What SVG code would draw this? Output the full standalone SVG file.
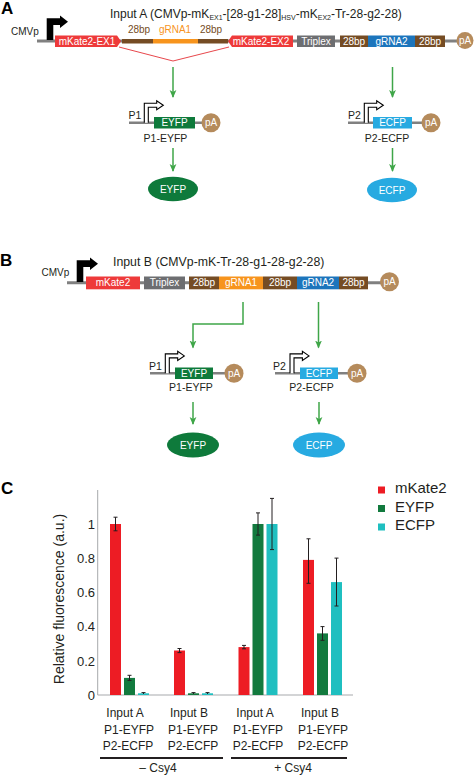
<svg xmlns="http://www.w3.org/2000/svg" width="474" height="775" viewBox="0 0 474 775">
<style>
text{font-family:"Liberation Sans",Arial,sans-serif;fill:#231f20}
.lbl{font-weight:bold;font-size:17px;fill:#000}
.ttl{font-size:12px}
.sub{font-size:7px}
.sm{font-size:10px}
.wt{font-size:10px;fill:#fff;text-anchor:middle}
.pl{font-size:10.5px}
.ctr{text-anchor:middle}
.bb{stroke:#808080;stroke-width:3;fill:none}
.pb{stroke:#808080;stroke-width:2.5;fill:none}
.ga{stroke:#3fa648;stroke-width:1.5;fill:none;marker-end:url(#gah)}
.red{fill:#ee3a3a}.gry{fill:#6d6e71}.brn{fill:#754c24}.org{fill:#f7941d}.blu{fill:#1c75bc}
.pa{fill:#b58b5c}
.eyfp{fill:#0e7a3b}.ecfp{fill:#27aae1}
.bR{fill:#ed1c24}.bG{fill:#127a3e}.bT{fill:#1fbfc0}
.err{stroke:#231f20;stroke-width:1;fill:none}
.ax{stroke:#a7a9ac;stroke-width:1;fill:none}
.tk{font-size:13px;text-anchor:end}
.xl{font-size:12px;text-anchor:middle}
.lg{font-size:15px}
</style>
<defs>
<marker id="gah" markerWidth="8" markerHeight="8" refX="7" refY="4" orient="auto" markerUnits="userSpaceOnUse">
<path d="M0,0.6 L8,4 L0,7.4 L2,4 Z" fill="#3fa648"/>
</marker>
<path id="prom" d="M0,0 V-19.4 H12.4 V-21.9 L19,-17.4 L12.4,-12.9 V-15.4 H4 V0" fill="#fff" stroke="#000" stroke-width="1.1"/>
<path id="bigprom" d="M0,0 V-21.7 H13.3 V-24.5 L21.3,-18.3 L13.3,-12 V-15 H6.6 V0 Z" fill="#000"/>
</defs>

<!-- Panel A -->
<g id="panelA-label"><text class="lbl" x="1" y="14">A</text></g>
<g id="titleA"><text class="ttl" x="110" y="17.5">Input A (CMVp-mK<tspan class="sub" dy="2.5">EX1</tspan><tspan dy="-2.5">-[28-g1-28]</tspan><tspan class="sub" dy="2.5">HSV</tspan><tspan dy="-2.5">-mK</tspan><tspan class="sub" dy="2.5">EX2</tspan><tspan dy="-2.5">-Tr-28-g2-28)</tspan></text></g>
<g id="constructA">
<line class="bb" x1="37" y1="41" x2="458" y2="41"/>
<text class="sm" x="11" y="35">CMVp</text>
<use href="#bigprom" x="46.7" y="40"/>
<polygon class="red" points="55,35.5 117,35.5 121,41.2 117,47 55,47"/>
<text class="wt" x="87" y="44.6">mKate2-EX1</text>
<rect class="brn" x="122" y="39" width="31" height="4.5"/>
<rect class="org" x="153" y="39" width="45" height="4.5"/>
<rect class="brn" x="198" y="39" width="30" height="4.5"/>
<text class="sm ctr" x="139" y="33.3" style="fill:#754c24">28bp</text>
<text class="sm ctr" x="175" y="33.3" style="fill:#f7941d">gRNA1</text>
<text class="sm ctr" x="211" y="33.3" style="fill:#754c24">28bp</text>
<polygon class="red" points="232,35.5 293,35.5 293,47 232,47 228,41.2"/>
<text class="wt" x="261" y="44.6">mKate2-EX2</text>
<rect class="gry" x="297" y="35.5" width="38" height="11.5"/>
<text class="wt" x="316" y="44.6">Triplex</text>
<rect class="brn" x="340" y="35.5" width="28" height="11.5"/>
<text class="wt" x="354" y="44.6">28bp</text>
<rect class="blu" x="368" y="35.5" width="47" height="11.5"/>
<text class="wt" x="391.5" y="44.6">gRNA2</text>
<rect class="brn" x="415" y="35.5" width="30" height="11.5"/>
<text class="wt" x="430" y="44.6">28bp</text>
<circle class="pa" cx="465" cy="40.5" r="8.5"/>
<text class="wt" x="465" y="44">pA</text>
<polyline points="119,47 173,61 229,47" fill="none" stroke="#e8474c" stroke-width="1"/>
</g>
<g id="A-P1-EYFP">
<line class="pb" x1="129" y1="122.7" x2="203" y2="122.7"/>
<text class="pl" x="128.5" y="119">P1</text>
<use href="#prom" x="144.3" y="122.7"/>
<rect class="eyfp" x="154" y="117" width="41" height="11.5"/>
<text class="wt" x="174.5" y="126.4">EYFP</text>
<circle class="pa" cx="211" cy="122.7" r="9.5"/>
<text class="wt" x="211" y="126.4">pA</text>
<text class="pl ctr" x="165.5" y="141.7">P1-EYFP</text>
</g>
<g id="A-P2-ECFP">
<line class="pb" x1="348" y1="122.7" x2="423" y2="122.7"/>
<text class="pl" x="348" y="119">P2</text>
<use href="#prom" x="364.3" y="122.7"/>
<rect class="ecfp" x="373" y="117" width="39" height="11.5"/>
<text class="wt" x="392.5" y="126.4">ECFP</text>
<circle class="pa" cx="431" cy="122.7" r="9.5"/>
<text class="wt" x="431" y="126.4">pA</text>
<text class="pl ctr" x="387" y="141.7">P2-ECFP</text>
</g>
<g id="A-EYFP-protein"><ellipse class="eyfp" cx="173" cy="189" rx="25" ry="12.3"/><text class="wt" x="173" y="192.6">EYFP</text></g>
<g id="A-ECFP-protein"><ellipse class="ecfp" cx="392" cy="190" rx="25" ry="12.3"/><text class="wt" x="392" y="193.6">ECFP</text></g>

<!-- Panel B -->
<g id="panelB-label"><text class="lbl" x="0" y="266">B</text></g>
<g id="titleB"><text class="ttl" x="113" y="265.5" style="font-size:12.3px">Input B (CMVp-mK-Tr-28-g1-28-g2-28)</text></g>
<g id="constructB">
<line class="bb" x1="67" y1="282.7" x2="382" y2="282.7"/>
<text class="sm" x="41.5" y="276">CMVp</text>
<use href="#bigprom" x="76.7" y="282"/>
<rect class="red" x="86" y="276.5" width="54" height="12.8"/>
<text class="wt" x="113" y="286.4">mKate2</text>
<rect class="gry" x="144" y="276.5" width="41" height="12.8"/>
<text class="wt" x="164.5" y="286.4">Triplex</text>
<rect class="brn" x="189" y="276.5" width="30" height="12.8"/>
<text class="wt" x="204" y="286.4">28bp</text>
<rect class="org" x="219" y="276.5" width="44" height="12.8"/>
<text class="wt" x="241" y="286.4">gRNA1</text>
<rect class="brn" x="263" y="276.5" width="34" height="12.8"/>
<text class="wt" x="280" y="286.4">28bp</text>
<rect class="blu" x="297" y="276.5" width="42" height="12.8"/>
<text class="wt" x="318" y="286.4">gRNA2</text>
<rect class="brn" x="339" y="276.5" width="29" height="12.8"/>
<text class="wt" x="353.5" y="286.4">28bp</text>
<circle class="pa" cx="389.5" cy="281.7" r="9.5"/>
<text class="wt" x="389.5" y="285.4">pA</text>
</g>
<g id="B-P1-EYFP">
<line class="pb" x1="150" y1="373.3" x2="226" y2="373.3"/>
<text class="pl" x="149" y="369.5">P1</text>
<use href="#prom" x="165.3" y="373.3"/>
<rect class="eyfp" x="175" y="367.5" width="38" height="11.5"/>
<text class="wt" x="194" y="376.9">EYFP</text>
<circle class="pa" cx="234" cy="373.3" r="9.5"/>
<text class="wt" x="234" y="377">pA</text>
<text class="pl ctr" x="191" y="390.7">P1-EYFP</text>
</g>
<g id="B-P2-ECFP">
<line class="pb" x1="275" y1="373.3" x2="349" y2="373.3"/>
<text class="pl" x="273" y="369.5">P2</text>
<use href="#prom" x="290" y="373.3"/>
<rect class="ecfp" x="300" y="367.5" width="38" height="11.5"/>
<text class="wt" x="319" y="376.9">ECFP</text>
<circle class="pa" cx="357" cy="373.3" r="9.5"/>
<text class="wt" x="357" y="377">pA</text>
<text class="pl ctr" x="311.5" y="390.7">P2-ECFP</text>
</g>
<g id="B-EYFP-protein"><ellipse class="eyfp" cx="193" cy="445" rx="26" ry="12.5"/><text class="wt" x="193" y="448.6">EYFP</text></g>
<g id="B-ECFP-protein"><ellipse class="ecfp" cx="319" cy="445" rx="26" ry="12.5"/><text class="wt" x="319" y="448.6">ECFP</text></g>

<g id="connectors">
<line class="ga" x1="173" y1="67" x2="173" y2="97"/>
<line class="ga" x1="392.5" y1="67" x2="392.5" y2="97"/>
<line class="ga" x1="173" y1="148" x2="173" y2="171"/>
<line class="ga" x1="392.5" y1="148" x2="392.5" y2="171"/>
<polyline class="ga" points="243,302 243,324 193,324 193,347.5"/>
<line class="ga" x1="318.5" y1="302" x2="318.5" y2="347.5"/>
<line class="ga" x1="193" y1="402" x2="193" y2="424"/>
<line class="ga" x1="319" y1="402" x2="319" y2="424"/>
</g>

<!-- Panel C -->
<g id="panelC-label"><text class="lbl" x="1" y="494">C</text></g>
<g id="chart">
<polyline class="ax" points="97.7,490 97.7,695 353,695"/>
<text class="tk" x="95" y="528.8">1</text>
<text class="tk" x="95" y="563">0.8</text>
<text class="tk" x="95" y="597.2">0.6</text>
<text class="tk" x="95" y="631.4">0.4</text>
<text class="tk" x="95" y="665.6">0.2</text>
<text class="tk" x="95" y="699.8">0</text>
<text transform="translate(64,599) rotate(-90)" style="font-size:14px;text-anchor:middle">Relative fluorescence (a.u.)</text>
<!-- group 1 -->
<rect class="bR" x="110" y="524" width="11" height="171"/>
<rect class="bG" x="124" y="677.9" width="11" height="17.1"/>
<rect class="bT" x="138" y="693.3" width="11" height="1.7"/>
<!-- group 2 -->
<rect class="bR" x="174" y="650.5" width="11" height="44.5"/>
<rect class="bG" x="188" y="693.3" width="11" height="1.7"/>
<rect class="bT" x="202" y="693.3" width="11" height="1.7"/>
<!-- group 3 -->
<rect class="bR" x="238.5" y="647.1" width="11" height="47.9"/>
<rect class="bG" x="252.5" y="524" width="11" height="171"/>
<rect class="bT" x="266.5" y="524" width="11" height="171"/>
<!-- group 4 -->
<rect class="bR" x="303" y="559.9" width="11" height="135.1"/>
<rect class="bG" x="317" y="633.4" width="11" height="61.6"/>
<rect class="bT" x="331" y="582.1" width="11" height="112.9"/>
<path class="err" d="M115.5,517.2V530.8M113.5,517.2h4M113.5,530.8h4
M129.5,675.3V680.4M127.5,675.3h4M127.5,680.4h4
M143.5,692.6V694M141.5,692.6h4
M179.5,648.5V652.6M177.5,648.5h4M177.5,652.6h4
M193.5,692.6V694M191.5,692.6h4
M207.5,692.6V694M205.5,692.6h4
M244,645.4V648.8M242,645.4h4M242,648.8h4
M258,512.9V535.1M256,512.9h4M256,535.1h4
M272,498.4V549.6M270,498.4h4M270,549.6h4
M308.5,538.8V583.3M306.5,538.8h4M306.5,583.3h4
M322.5,626.6V640.3M320.5,626.6h4M320.5,640.3h4
M336.5,558.1V606M334.5,558.1h4M334.5,606h4"/>
<text class="xl" x="125" y="717">Input A</text>
<text class="xl" x="129" y="733.5">P1-EYFP</text>
<text class="xl" x="128" y="750">P2-ECFP</text>
<text class="xl" x="189" y="717">Input B</text>
<text class="xl" x="193" y="733.5">P1-EYFP</text>
<text class="xl" x="193" y="750">P2-ECFP</text>
<text class="xl" x="255" y="717">Input A</text>
<text class="xl" x="258" y="733.5">P1-EYFP</text>
<text class="xl" x="258" y="750">P2-ECFP</text>
<text class="xl" x="320" y="717">Input B</text>
<text class="xl" x="323" y="733.5">P1-EYFP</text>
<text class="xl" x="323" y="750">P2-ECFP</text>
<line x1="100" y1="758" x2="223" y2="758" stroke="#231f20" stroke-width="1.8"/>
<line x1="231" y1="758" x2="347" y2="758" stroke="#231f20" stroke-width="1.8"/>
<text class="xl" x="158" y="771.5">– Csy4</text>
<text class="xl" x="293" y="771.5">+ Csy4</text>
</g>
<g id="legend">
<rect class="bR" x="378" y="486.5" width="7" height="7"/>
<text class="lg" x="395" y="493">mKate2</text>
<rect class="bG" x="378" y="505" width="7" height="7"/>
<text class="lg" x="395" y="511.5">EYFP</text>
<rect class="bT" x="378" y="523.5" width="7" height="7"/>
<text class="lg" x="395" y="530">ECFP</text>
</g>
</svg>
